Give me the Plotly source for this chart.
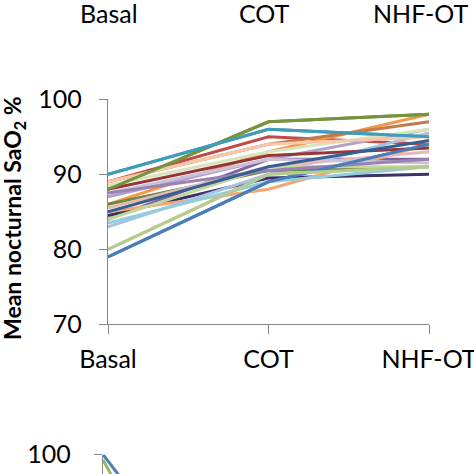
import plotly.graph_objects as go

W, H = 474, 474

stages = ["Basal", "COT", "NHF-OT"]

# Mean nocturnal SaO2 (%) per patient at each stage
basal = [79, 89, 80, 84, 90, 86, 84.5, 89, 88, 87, 88.5, 85, 83, 86, 85.5, 83.5, 87.5, 88, 84, 87.5, 89, 85]
cot   = [89, 95, 90, 92, 96, 93, 89.5, 94, 97, 92, 93, 88, 90, 90.5, 91, 89, 92, 92.5, 91, 90.5, 94, 91]
nhf   = [94, 94, 91, 92, 95, 98, 90, 97, 98, 96, 96, 94, 95.5, 91, 93, 91, 91.5, 93.5, 91, 92, 95, 94.5]

# partially visible panel below (only its top is in frame)
lower_basal = [100, 99.3]
lower_cot = [72, 60]

colors = ["#4A7EBB", "#BE4B48", "#B5CC8E", "#7E64A0", "#3E9DB8", "#F79646",
          "#3C3265", "#C07A50", "#77933C", "#B3A2C7", "#D7E4BD", "#F4A771",
          "#A9C2E2", "#6E8B3D", "#E6B9B8", "#93CDDD", "#CCC1DA", "#953735",
          "#C4D79B", "#9983B5", "#FAC8A8", "#366092"]
lower_colors = ["#4F81BD", "#9BBB59"]

FONT = "Lato"
FS = 25
AX = "#868686"

fig = go.Figure()

for i in range(len(basal)):
    fig.add_trace(go.Scatter(
        x=[0, 1, 2], y=[basal[i], cot[i], nhf[i]], mode="lines",
        line=dict(color=colors[i], width=3), showlegend=False,
        xaxis="x", yaxis="y", hoverinfo="skip"))

for i in [8, 4, 0, 2]:
    fig.add_trace(go.Scatter(
        x=[0, 1, 2], y=[basal[i], cot[i], nhf[i]], mode="lines",
        line=dict(color=colors[i], width=3), showlegend=False,
        xaxis="x", yaxis="y", hoverinfo="skip"))

for j in [1, 0]:
    fig.add_trace(go.Scatter(
        x=[0, 1], y=[lower_basal[j], lower_cot[j]], mode="lines",
        line=dict(color=lower_colors[j], width=3), showlegend=False,
        xaxis="x2", yaxis="y2", hoverinfo="skip"))

def px_x(p):
    return p / W

def px_y(p):
    return 1 - p / H

axis_common = dict(showline=True, linecolor=AX, linewidth=1.3, ticks="outside",
                   tickcolor=AX, tickwidth=1.3, showgrid=False, zeroline=False,
                   automargin=False, ticklabeloverflow="allow")

fig.update_layout(
    template="none",
    width=W, height=H, margin=dict(l=0, r=0, t=0, b=0, pad=0),
    paper_bgcolor="white", plot_bgcolor="white",
    font=dict(family=FONT, size=FS, color="black"),
    xaxis=dict(domain=[px_x(108), px_x(429)], range=[0, 2], anchor="y",
               tickmode="array", tickvals=[0, 1, 2], ticktext=stages,
               ticklen=9, ticklabelstandoff=4, **axis_common),
    yaxis=dict(domain=[px_y(324.3), px_y(99.3)], range=[70, 100], anchor="x",
               tickmode="array", tickvals=[70, 80, 90, 100],
               ticklen=8, ticklabelstandoff=12, **axis_common),
    xaxis2=dict(domain=[px_x(103), px_x(424)], range=[0, 2], anchor="y2",
                visible=False, automargin=False),
    yaxis2=dict(domain=[0, px_y(454.5)], range=[100 - 19.5 / 7.5, 100], anchor="x2",
                tickmode="array", tickvals=[100],
                ticklen=8, ticklabelstandoff=18, **axis_common),
)

annotations = []
top_centers = [109, 264, 420]
for k, s in enumerate(stages):
    annotations.append(dict(x=px_x(top_centers[k]), y=px_y(13), xref="paper", yref="paper",
                            text=s, showarrow=False, xanchor="center", yanchor="middle",
                            font=dict(family=FONT, size=FS, color="black")))
annotations.append(dict(x=px_x(14), y=px_y(218), xref="paper", yref="paper",
                        text="<b>Mean nocturnal SaO<sub>2</sub> %</b>", textangle=-90,
                        showarrow=False, xanchor="center", yanchor="middle",
                        font=dict(family=FONT, size=23, color="black")))
fig.update_layout(annotations=annotations)

fig.write_html("out.html")
